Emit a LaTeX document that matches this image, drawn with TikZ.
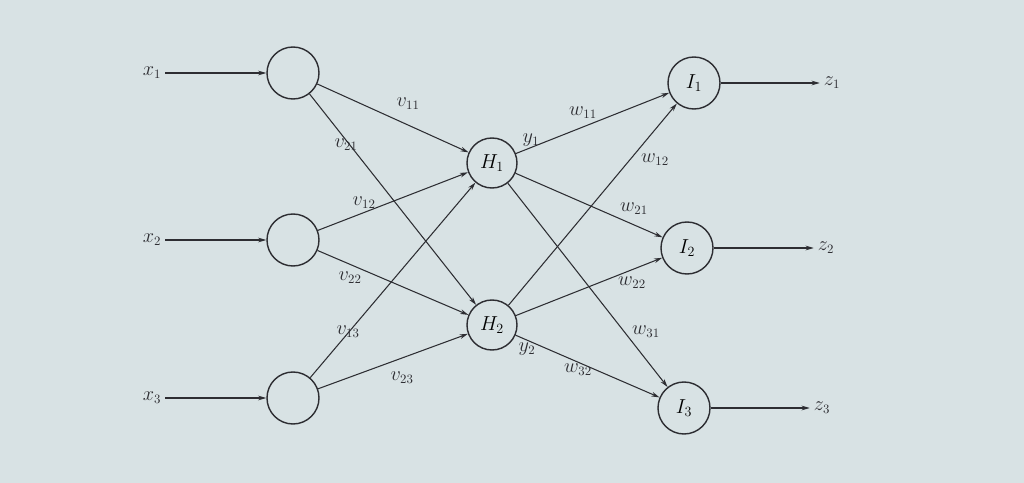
\documentclass[tikz,border=0pt]{standalone}
\usetikzlibrary{arrows.meta}
\definecolor{bg}{RGB}{216,226,228}
\definecolor{ink}{RGB}{45,45,50}
\begin{document}
\begin{tikzpicture}[x=0.03cm,y=-0.03cm,
  neuron/.style={circle,draw=ink,line width=1.2pt,minimum size=1.56cm,inner sep=0pt,font=\fontsize{18}{20}\selectfont},
  hid/.style={neuron,minimum size=1.5cm},
  conn/.style={draw=ink,line width=0.9pt,-{Stealth[length=7pt,width=4pt]}},
  lab/.style={text=ink,font=\fontsize{16}{18}\selectfont}]
\fill[bg] (0,0) rectangle (1024,483);
\useasboundingbox (0,0) rectangle (1024,483);
\node[neuron] (a1) at (293,73) {};
\node[neuron] (a2) at (293,240) {};
\node[neuron] (a3) at (293,398) {};
\node[hid] (h1) at (492,163) {$H_1$};
\node[hid] (h2) at (492,325) {$H_2$};
\node[neuron] (o1) at (694,83) {$I_1$};
\node[neuron] (o2) at (687,248) {$I_2$};
\node[neuron] (o3) at (684,408) {$I_3$};
\node[lab] (x1) at (152,73) {$x_1$};
\node[lab] (x2) at (152,240) {$x_2$};
\node[lab] (x3) at (152,398) {$x_3$};
\node[lab] (z1) at (832,83) {$z_1$};
\node[lab] (z2) at (826,248) {$z_2$};
\node[lab] (z3) at (822,408) {$z_3$};
\draw[conn] (x1) -- (a1);
\draw[conn] (x2) -- (a2);
\draw[conn] (x3) -- (a3);
\draw[conn] (o1) -- (z1);
\draw[conn] (o2) -- (z2);
\draw[conn] (o3) -- (z3);
\foreach \a in {a1,a2,a3}{\foreach \h in {h1,h2}{\draw[conn] (\a) -- (\h);}}
\foreach \h in {h1,h2}{\foreach \o in {o1,o2,o3}{\draw[conn] (\h) -- (\o);}}
\node[lab] (v11) at (408,104) {$v_{11}$};
\node[lab] (v21) at (346,145) {$v_{21}$};
\node[lab] (v12) at (364,203) {$v_{12}$};
\node[lab] (v22) at (350,278) {$v_{22}$};
\node[lab] (v13) at (348,332) {$v_{13}$};
\node[lab] (v23) at (402,378) {$v_{23}$};
\node[lab] (y1) at (531,140) {$y_1$};
\node[lab] (y2) at (527,349) {$y_2$};
\node[lab] (w11) at (583,113) {$w_{11}$};
\node[lab] (w12) at (655,160) {$w_{12}$};
\node[lab] (w21) at (634,209) {$w_{21}$};
\node[lab] (w22) at (632,283) {$w_{22}$};
\node[lab] (w31) at (646,332) {$w_{31}$};
\node[lab] (w32) at (578,370) {$w_{32}$};
\end{tikzpicture}
\end{document}
